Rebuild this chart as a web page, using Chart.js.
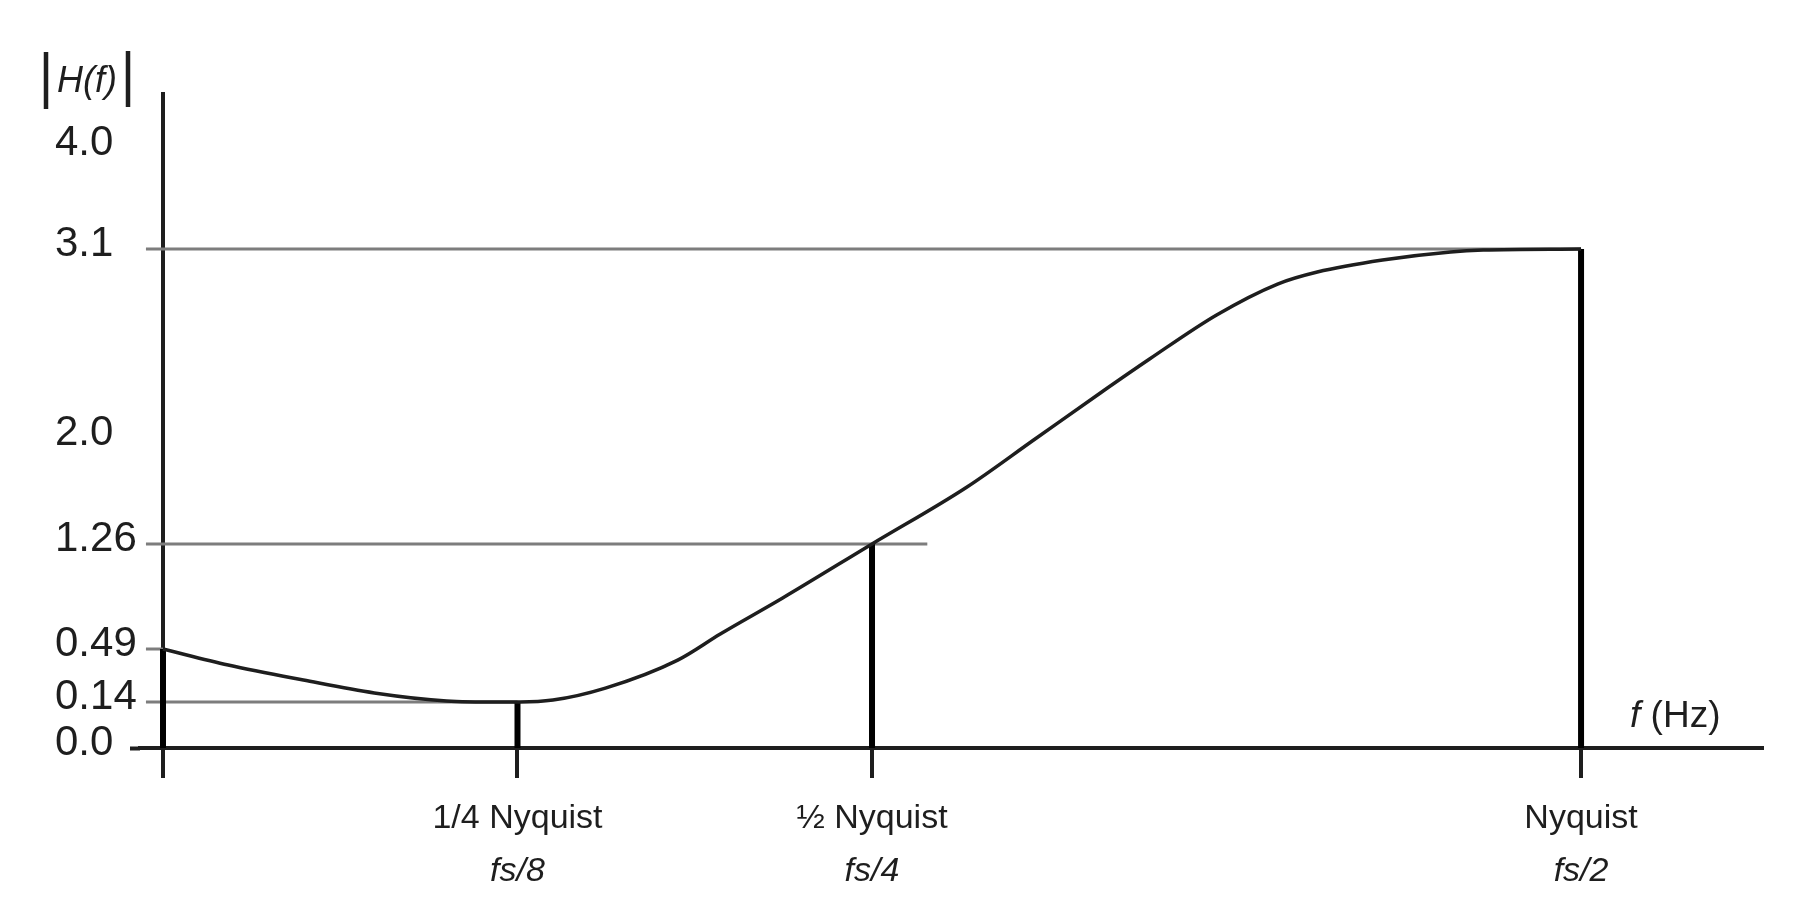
<!DOCTYPE html>
<html>
<head>
<meta charset="utf-8">
<script src="https://cdn.jsdelivr.net/npm/chart.js@4.4.1/dist/chart.umd.min.js"></script>
<style>
  html, body { margin: 0; padding: 0; background: #fff; }
  #wrap { width: 1798px; height: 906px; position: relative; }
</style>
</head>
<body>
<div id="wrap"><canvas id="hChart"></canvas></div>
<script>
// frequency as a fraction of Nyquist (1.0 = fs/2) and the gain |H(f)|
const freqs = [0, 0.046, 0.099, 0.149, 0.200, 0.237, 0.252, 0.275, 0.312, 0.363, 0.393, 0.437, 0.5,
  0.567, 0.614, 0.661, 0.696, 0.743, 0.786, 0.814, 0.860, 0.908, 0.931, 1.0];
const gain = [0.49, 0.384, 0.285, 0.20, 0.147, 0.14, 0.14, 0.153, 0.232, 0.417, 0.60, 0.864, 1.26,
  1.658, 1.986, 2.262, 2.461, 2.716, 2.896, 2.966, 3.036, 3.083, 3.094, 3.1];

const yTickValues = [0, 0.14, 0.49, 1.26, 2.0, 3.1, 4.0];
const yTickLabels = ['0.0', '0.14', '0.49', '1.26', '2.0', '3.1', '4.0'];

const xTickValues = [0, 0.25, 0.5, 1];
const xTickNames = ['', '1/4 Nyquist', '½ Nyquist', 'Nyquist'];
const xTickRates = ['', 'fs/8', 'fs/4', 'fs/2'];

// marked frequencies with their gain (the thick stems)
const stemFreqs = [0, 0.25, 0.5, 1];
const stemGains = [0.49, 0.14, 1.26, 3.1];

// grey guide levels and the frequency where each one stops
const refLevels = [3.1, 1.26, 0.49, 0.14];
const refEnds = [1, 0.539, 0, 0.25];
const refStart = -0.012;

const FONT = '"Liberation Sans", Arial, Helvetica, sans-serif';
const INK = '#1e1e1e';

// the y axis in the figure is not to scale: each labelled value sits at its own height
class StretchScale extends Chart.LinearScale {
  static id = 'stretch';
  static defaults = Chart.LinearScale.defaults;
  _toDecimal(v) {
    const s = this.options.stops;
    if (v <= s[0][0]) return s[0][1];
    for (let i = 1; i < s.length; i++) {
      if (v <= s[i][0]) {
        const [v0, d0] = s[i - 1], [v1, d1] = s[i];
        return d0 + (v - v0) / (v1 - v0) * (d1 - d0);
      }
    }
    return s[s.length - 1][1];
  }
  getPixelForValue(value) {
    if (value === null || isNaN(value)) return NaN;
    return this.getPixelForDecimal(this._toDecimal(value));
  }
  getValueForPixel(pixel) {
    const d = this.getDecimalForPixel(pixel);
    const s = this.options.stops;
    for (let i = 1; i < s.length; i++) {
      if (d <= s[i][1]) {
        const [v0, d0] = s[i - 1], [v1, d1] = s[i];
        return v0 + (d - d0) / (d1 - d0) * (v1 - v0);
      }
    }
    return s[s.length - 1][0];
  }
}
Chart.register(StretchScale);

const pts = (xs, ys) => xs.map((x, i) => ({ x: x, y: ys[i] }));

const datasets = [
  {
    data: pts(freqs, gain),
    borderColor: INK, borderWidth: 3.5, pointRadius: 0,
    cubicInterpolationMode: 'monotone'
  },
  ...stemFreqs.map((f, i) => ({
    data: [{ x: f, y: 0 }, { x: f, y: stemGains[i] }],
    borderColor: '#000', borderWidth: 6, pointRadius: 0, borderCapStyle: 'butt'
  })),
  ...refLevels.map((lv, i) => ({
    data: [{ x: refStart, y: lv }, { x: refEnds[i], y: lv }],
    borderColor: '#7d7d7d', borderWidth: 3, pointRadius: 0
  }))
];

const annotate = {
  id: 'annotate',
  afterDraw(chart) {
    const { ctx, chartArea } = chart;
    const ys = chart.scales.y, xs = chart.scales.x;
    const top = chartArea.top;
    ctx.save();
    ctx.fillStyle = INK;
    ctx.strokeStyle = INK;
    // |H(f)|
    ctx.lineWidth = 4.5;
    ctx.beginPath();
    ctx.moveTo(ys.left - 9, top - 40); ctx.lineTo(ys.left - 9, top + 17);
    ctx.moveTo(ys.left + 73, top - 41); ctx.lineTo(ys.left + 73, top + 15);
    ctx.stroke();
    ctx.textBaseline = 'alphabetic';
    ctx.font = 'italic 36px ' + FONT;
    ctx.fillText('H(f)', ys.left + 2, top);
    // f (Hz)
    const fx = xs.getPixelForValue(1) + 49;
    const fy = ys.getPixelForValue(0) - 21;
    ctx.font = 'italic 37px ' + FONT;
    ctx.fillText('f', fx, fy);
    const w = ctx.measureText('f').width;
    ctx.font = '37px ' + FONT;
    ctx.fillText(' (Hz)', fx + w, fy);
    ctx.restore();
  }
};

const setTicks = vals => scale => { scale.ticks = vals.map(v => ({ value: v })); };

new Chart(document.getElementById('hChart'), {
  type: 'line',
  data: { datasets: datasets },
  plugins: [annotate],
  options: {
    responsive: true,
    maintainAspectRatio: false,
    animation: false,
    layout: { padding: { top: 92, left: 55, right: 36, bottom: 14 } },
    plugins: { legend: { display: false }, tooltip: { enabled: false } },
    scales: {
      x: {
        type: 'linear', position: 'bottom',
        min: -0.0162, max: 1.1276,
        afterBuildTicks: setTicks(xTickValues),
        afterFit: s => { s.height = 91; },
        grid: {
          color: c => (c.tick && c.tick.value === 0 ? INK : 'rgba(0,0,0,0)'),
          lineWidth: 4,
          drawTicks: true, tickLength: 30, tickColor: INK, tickWidth: 4
        },
        border: { display: true, color: INK, width: 4 },
        ticks: {
          autoSkip: false, maxRotation: 0, padding: 20,
          color: INK, font: { size: 34, family: FONT },
          callback: v => xTickNames[xTickValues.indexOf(v)]
        }
      },
      x2: {
        type: 'linear', position: 'bottom',
        min: -0.0162, max: 1.1276,
        afterBuildTicks: setTicks(xTickValues),
        afterFit: s => { s.height = 53; },
        grid: { display: false, drawTicks: false },
        border: { display: false },
        ticks: {
          autoSkip: false, maxRotation: 0, padding: 12,
          color: INK, font: { size: 34, family: FONT, style: 'italic' },
          callback: v => xTickRates[xTickValues.indexOf(v)]
        }
      },
      y: {
        type: 'stretch', position: 'left',
        min: 0, max: 4.5,
        stops: [[0, 0], [0.14, 0.0701], [0.49, 0.1509], [1.26, 0.311], [2.0, 0.4726],
                [3.1, 0.7607], [4.0, 0.9146], [4.5, 1]],
        afterBuildTicks: setTicks(yTickValues),
        afterFit: s => { s.width = 85; },
        grid: {
          drawOnChartArea: false, drawTicks: true, tickLength: 10, tickWidth: 4,
          tickColor: c => (c.tick && c.tick.value === 0 ? INK : 'rgba(0,0,0,0)')
        },
        border: { display: false },
        ticks: {
          crossAlign: 'far', padding: 0, labelOffset: -5,
          color: INK, font: { size: 42, family: FONT },
          callback: v => yTickLabels[yTickValues.indexOf(v)]
        }
      }
    }
  }
});
</script>
</body>
</html>
